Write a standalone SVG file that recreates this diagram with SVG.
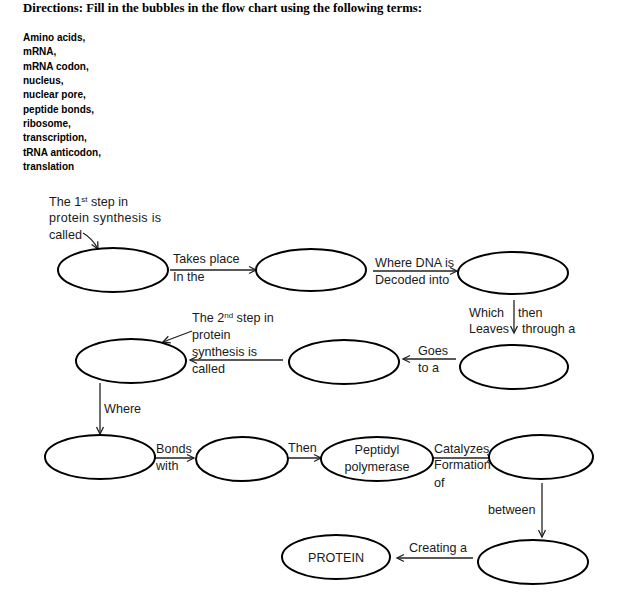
<svg xmlns="http://www.w3.org/2000/svg" width="625" height="604" viewBox="0 0 625 604">
<defs>
<marker id="ah" markerWidth="10" markerHeight="10" refX="8" refY="5" orient="auto" markerUnits="userSpaceOnUse">
<path d="M1,1.5 L8,5 L1,8.5" fill="none" stroke="#222" stroke-width="1.3"/>
</marker>
<style>
.hd{font-family:"Liberation Serif",serif;font-weight:bold;font-size:12.5px;fill:#000}
.tm{font-family:"Liberation Sans",sans-serif;font-weight:bold;font-size:10px;fill:#000}
.t{font-family:"Liberation Sans",sans-serif;font-size:12.6px;fill:#1a1a1a}
.tc{font-family:"Liberation Sans",sans-serif;font-size:12.6px;fill:#1a1a1a;text-anchor:middle}
.ln{fill:none;stroke:#222;stroke-width:1.3;marker-end:url(#ah)}
.nd{fill:#fff;stroke:#000;stroke-width:2}
</style>
</defs>
<rect width="625" height="604" fill="#fff"/>
<text class="hd" x="23" y="12" textLength="399" lengthAdjust="spacingAndGlyphs">Directions: Fill in the bubbles in the flow chart using the following terms:</text>
<g id="terms">
<text class="tm" x="23" y="41">Amino acids,</text>
<text class="tm" x="23" y="55.3">mRNA,</text>
<text class="tm" x="23" y="69.7">mRNA codon,</text>
<text class="tm" x="23" y="84">nucleus,</text>
<text class="tm" x="23" y="98.3">nuclear pore,</text>
<text class="tm" x="23" y="112.7">peptide bonds,</text>
<text class="tm" x="23" y="127">ribosome,</text>
<text class="tm" x="23" y="141.3">transcription,</text>
<text class="tm" x="23" y="155.7">tRNA anticodon,</text>
<text class="tm" x="23" y="170">translation</text>
</g>
<g id="connectors">
<text class="t" x="49" y="206">The 1<tspan font-size="8" dy="-4">st</tspan><tspan dy="4"> step in</tspan></text>
<text class="t" x="49" y="222" textLength="112">protein synthesis is</text>
<text class="t" x="49" y="239">called</text>
<path class="ln" d="M83,233 Q92,238 98,249"/>

<line class="ln" x1="170" y1="270" x2="256" y2="270"/>
<text class="t" x="173" y="263">Takes place</text>
<text class="t" x="173" y="281">In the</text>

<line class="ln" x1="373" y1="271" x2="457" y2="271"/>
<text class="t" x="375" y="267">Where DNA is</text>
<text class="t" x="375" y="284">Decoded into</text>

<line class="ln" x1="514" y1="300" x2="514" y2="333"/>
<text class="t" x="469" y="317">Which</text>
<text class="t" x="518" y="317">then</text>
<text class="t" x="469" y="333" textLength="40" lengthAdjust="spacingAndGlyphs">Leaves</text>
<text class="t" x="522" y="333">through a</text>

<line class="ln" x1="456" y1="359" x2="403" y2="359"/>
<text class="t" x="418" y="355">Goes</text>
<text class="t" x="418" y="372">to a</text>

<line class="ln" x1="283" y1="360" x2="190" y2="360"/>
<text class="t" x="192" y="322">The 2<tspan font-size="8" dy="-4">nd</tspan><tspan dy="4"> step in</tspan></text>
<text class="t" x="192" y="339">protein</text>
<text class="t" x="192" y="356">synthesis is</text>
<text class="t" x="192" y="373">called</text>
<line class="ln" x1="192" y1="331" x2="163" y2="342"/>

<line class="ln" x1="100" y1="383" x2="100" y2="434"/>
<text class="t" x="104" y="413">Where</text>

<line class="ln" x1="155" y1="458" x2="194" y2="458"/>
<text class="t" x="156" y="453">Bonds</text>
<text class="t" x="156" y="470">with</text>

<line class="ln" x1="288" y1="458" x2="321" y2="458"/>
<text class="t" x="288" y="452">Then</text>

<line class="ln" x1="432" y1="458" x2="494" y2="458"/>
<text class="t" x="434" y="453">Catalyzes</text>
<text class="t" x="434" y="469">Formation</text>
<text class="t" x="434" y="487">of</text>

<line class="ln" x1="542" y1="483" x2="542" y2="537"/>
<text class="t" x="488" y="514">between</text>

<line class="ln" x1="473" y1="558" x2="397" y2="558"/>
<text class="t" x="409" y="552">Creating a</text>
</g>
<g id="n1"><ellipse class="nd" cx="113" cy="270" rx="55" ry="22"/></g>
<g id="n2"><ellipse class="nd" cx="311" cy="270" rx="55" ry="21"/></g>
<g id="n3"><ellipse class="nd" cx="513" cy="273" rx="55" ry="21"/></g>
<g id="n4"><ellipse class="nd" cx="131" cy="361" rx="55" ry="22"/></g>
<g id="n5"><ellipse class="nd" cx="344" cy="362" rx="55" ry="22"/></g>
<g id="n6"><ellipse class="nd" cx="514" cy="367" rx="54" ry="22"/></g>
<g id="n7"><ellipse class="nd" cx="100" cy="457" rx="55" ry="22"/></g>
<g id="n8"><ellipse class="nd" cx="242" cy="459" rx="46" ry="22"/></g>
<g id="n9"><ellipse class="nd" cx="377" cy="459" rx="56" ry="22"/>
<text class="tc" x="377" y="454">Peptidyl</text>
<text class="tc" x="377" y="471">polymerase</text></g>
<g id="n10"><ellipse class="nd" cx="541" cy="457" rx="52" ry="22"/></g>
<g id="n11"><ellipse class="nd" cx="533" cy="562" rx="55" ry="22"/></g>
<g id="n12"><ellipse class="nd" cx="336" cy="557" rx="54" ry="22"/>
<text class="tc" x="336" y="562">PROTEIN</text></g>
</svg>
